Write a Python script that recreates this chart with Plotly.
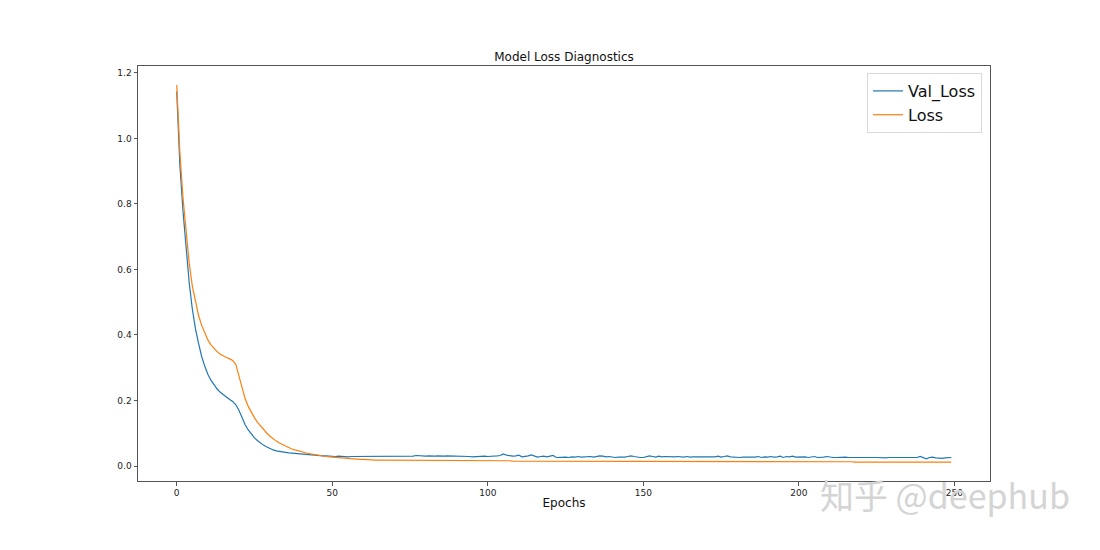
import plotly.graph_objects as go

# ---- data ----
val_loss = [
    1.143, 0.92, 0.78, 0.66, 0.56, 0.48, 0.42, 0.375, 0.335, 0.305,
    0.280, 0.262, 0.247, 0.235, 0.225, 0.217, 0.210, 0.203, 0.197, 0.187,
    0.170, 0.146, 0.126, 0.110, 0.097, 0.086, 0.077, 0.069, 0.063, 0.058,
    0.053, 0.049, 0.046, 0.044, 0.042, 0.041, 0.040, 0.039, 0.038, 0.037,
    0.036, 0.035, 0.034, 0.034, 0.033, 0.032, 0.032, 0.031, 0.031, 0.030,
    0.029, 0.029, 0.030, 0.029, 0.029, 0.028, 0.029, 0.029, 0.030, 0.029,
    0.030, 0.029, 0.031, 0.030, 0.029, 0.030, 0.031, 0.030, 0.029, 0.030,
    0.031, 0.030, 0.030, 0.031, 0.029, 0.030, 0.030, 0.032, 0.031, 0.030,
    0.030, 0.031, 0.030, 0.030, 0.031, 0.030, 0.030, 0.031, 0.031, 0.030,
    0.031, 0.031, 0.030, 0.031, 0.029, 0.028, 0.029, 0.028, 0.029, 0.030,
    0.029, 0.029, 0.030, 0.031, 0.032, 0.037, 0.033, 0.031, 0.030, 0.031,
    0.033, 0.028, 0.029, 0.031, 0.034, 0.030, 0.027, 0.029, 0.030, 0.028,
    0.029, 0.032, 0.026, 0.027, 0.028, 0.027, 0.026, 0.028, 0.027, 0.029,
    0.027, 0.028, 0.030, 0.029, 0.027, 0.029, 0.031, 0.030, 0.028, 0.029,
    0.027, 0.026, 0.027, 0.026, 0.027, 0.029, 0.031, 0.029, 0.027, 0.026,
    0.026, 0.028, 0.031, 0.029, 0.027, 0.030, 0.028, 0.029, 0.028, 0.027,
    0.028, 0.029, 0.028, 0.027, 0.029, 0.027, 0.028, 0.028, 0.027, 0.028,
    0.027, 0.028, 0.027, 0.028, 0.030, 0.027, 0.029, 0.031, 0.028, 0.027,
    0.028, 0.026, 0.027, 0.027, 0.026, 0.028, 0.027, 0.029, 0.026, 0.028,
    0.027, 0.029, 0.027, 0.028, 0.030, 0.026, 0.029, 0.028, 0.030, 0.027,
    0.028, 0.029, 0.028, 0.026, 0.027, 0.029, 0.026, 0.026, 0.027, 0.029,
    0.027, 0.026, 0.026, 0.027, 0.026, 0.027, 0.026, 0.027, 0.026, 0.026,
    0.027, 0.026, 0.026, 0.027, 0.026, 0.026, 0.025, 0.026, 0.025, 0.026,
    0.026, 0.025, 0.026, 0.025, 0.026, 0.026, 0.024, 0.025, 0.026, 0.029,
    0.025, 0.022, 0.026, 0.027, 0.025, 0.024, 0.023, 0.025, 0.026, 0.026,
]

loss = [
    1.163, 0.96, 0.82, 0.72, 0.62, 0.55, 0.50, 0.46, 0.43, 0.405,
    0.385, 0.370, 0.358, 0.349, 0.341, 0.335, 0.331, 0.327, 0.322, 0.310,
    0.275, 0.235, 0.205, 0.182, 0.163, 0.147, 0.133, 0.121, 0.110, 0.100,
    0.091, 0.083, 0.076, 0.070, 0.065, 0.060, 0.056, 0.052, 0.049, 0.046,
    0.043, 0.041, 0.039, 0.037, 0.035, 0.034, 0.032, 0.031, 0.029, 0.028,
    0.027, 0.026, 0.025, 0.024, 0.023, 0.022, 0.022, 0.021, 0.021, 0.020,
    0.020, 0.019, 0.019, 0.019, 0.018, 0.018, 0.018, 0.018, 0.018, 0.017,
    0.017, 0.017, 0.017, 0.017, 0.017, 0.017, 0.017, 0.017, 0.017, 0.017,
    0.017, 0.017, 0.017, 0.016, 0.016, 0.016, 0.016, 0.016, 0.016, 0.016,
    0.016, 0.016, 0.016, 0.016, 0.016, 0.016, 0.016, 0.016, 0.016, 0.016,
    0.016, 0.016, 0.016, 0.016, 0.016, 0.016, 0.016, 0.016, 0.015, 0.015,
    0.015, 0.015, 0.015, 0.015, 0.015, 0.015, 0.015, 0.015, 0.015, 0.015,
    0.015, 0.015, 0.015, 0.015, 0.015, 0.015, 0.015, 0.015, 0.015, 0.015,
    0.015, 0.015, 0.015, 0.015, 0.015, 0.015, 0.015, 0.015, 0.015, 0.015,
    0.015, 0.015, 0.015, 0.015, 0.015, 0.014, 0.014, 0.014, 0.014, 0.014,
    0.014, 0.014, 0.014, 0.014, 0.014, 0.014, 0.014, 0.014, 0.014, 0.014,
    0.014, 0.014, 0.014, 0.014, 0.014, 0.014, 0.014, 0.014, 0.014, 0.014,
    0.014, 0.014, 0.014, 0.014, 0.014, 0.014, 0.014, 0.014, 0.014, 0.014,
    0.014, 0.013, 0.013, 0.013, 0.013, 0.013, 0.013, 0.013, 0.013, 0.013,
    0.013, 0.013, 0.013, 0.013, 0.013, 0.013, 0.013, 0.013, 0.013, 0.013,
    0.013, 0.013, 0.013, 0.013, 0.013, 0.013, 0.013, 0.013, 0.013, 0.013,
    0.013, 0.013, 0.013, 0.013, 0.013, 0.013, 0.013, 0.013, 0.012, 0.012,
    0.012, 0.012, 0.012, 0.012, 0.012, 0.012, 0.012, 0.012, 0.012, 0.012,
    0.012, 0.012, 0.012, 0.012, 0.012, 0.012, 0.012, 0.012, 0.012, 0.012,
    0.012, 0.012, 0.012, 0.012, 0.012, 0.012, 0.012, 0.012, 0.012, 0.012,
]

epochs = list(range(len(val_loss)))
x_ticks = [0, 50, 100, 150, 200, 250]
y_ticks = [0.0, 0.2, 0.4, 0.6, 0.8, 1.0, 1.2]
y_tick_text = ["0.0", "0.2", "0.4", "0.6", "0.8", "1.0", "1.2"]

font_family = "DejaVu Sans"

# The page body adds an 8 px offset; margins compensate for it.
ML, MR, MT, MB = 130, 118, 58, 77
W, H = 1100, 550
plot_w = W - ML - MR
plot_h = H - MT - MB

fig = go.Figure()
fig.add_trace(go.Scatter(x=epochs, y=val_loss, mode="lines", name="Val_Loss",
                         line=dict(color="#1f77b4", width=1.2)))
fig.add_trace(go.Scatter(x=epochs, y=loss, mode="lines", name="Loss",
                         line=dict(color="#ff7f0e", width=1.2)))

axis_common = dict(showgrid=False, zeroline=False, showline=True, mirror=True,
                   linecolor="#555555", linewidth=1, ticks="outside", ticklen=3.5,
                   tickcolor="#555555", tickwidth=0.8,
                   tickfont=dict(family=font_family, size=9, color="#222222"))

fig.update_layout(
    width=W, height=H,
    paper_bgcolor="white", plot_bgcolor="white",
    margin=dict(l=ML, r=MR, t=MT, b=MB),
    title=dict(text="Model Loss Diagnostics", x=(ML + plot_w / 2) / W, xanchor="center",
               y=1 - 49 / H, yanchor="middle",
               font=dict(family=font_family, size=12, color="#111111")),
    xaxis=dict(range=[-12.45, 261.45], tickvals=x_ticks,
               title=dict(text="Epochs", font=dict(family=font_family, size=12, color="#111111"),
                          standoff=1),
               **axis_common),
    yaxis=dict(range=[-0.0458, 1.221], tickvals=y_ticks, ticktext=y_tick_text,
               **axis_common),
    legend=dict(x=(974 - ML) / plot_w, y=1 - (7 / plot_h), xanchor="right", yanchor="top",
                bgcolor="rgba(255,255,255,0.8)", bordercolor="#d8d8d8", borderwidth=1,
                font=dict(family=font_family, size=16, color="#111111"),
                tracegroupgap=0, itemwidth=30),
    showlegend=True,
)

fig.add_annotation(text="知乎 @deephub", xref="paper", yref="paper",
                   x=(1064 - ML) / plot_w, y=-(487 - (H - MB)) / plot_h,
                   xanchor="right", yanchor="middle", showarrow=False,
                   font=dict(family="Noto Sans CJK SC", size=34, color="#d4d4d4"))

fig.write_html("out.html")
